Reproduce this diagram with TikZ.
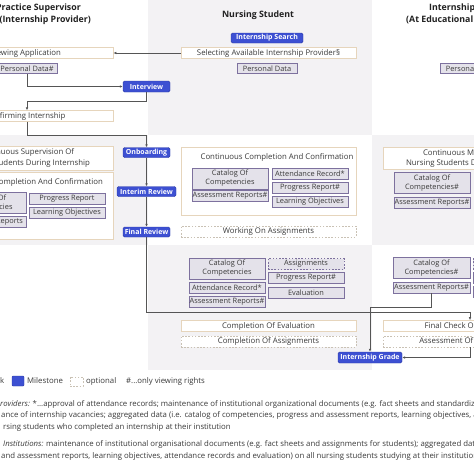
\documentclass[tikz,border=0pt]{standalone}
\usepackage{fontspec}
\setmainfont{Open Sans}
\usetikzlibrary{arrows.meta}
\definecolor{txt}{HTML}{3A3A3A}
\definecolor{hdrc}{HTML}{222222}
\definecolor{taskc}{HTML}{E6D5BC}
\definecolor{optc}{HTML}{C9C1B4}
\definecolor{datab}{HTML}{7D719E}
\definecolor{dataf}{HTML}{E4E2EA}
\definecolor{msf}{HTML}{3D50D2}
\definecolor{msb}{HTML}{2C3AA6}
\definecolor{linec}{HTML}{555555}
\definecolor{bgc}{HTML}{F3F2F4}
\tikzset{
  base/.style={inner sep=0pt, align=center, font=\fontsize{7.8}{9}\selectfont, text=txt},
  task/.style={base, draw=taskc, fill=white, line width=0.7pt},
  opt/.style={base, draw=optc, fill=white, dash pattern=on 1.6pt off 1.6pt, line width=0.7pt},
  data/.style={base, draw=datab, fill=dataf, line width=0.7pt, font=\fontsize{7.4}{9}\selectfont},
  optdata/.style={data, dash pattern=on 1.6pt off 1.6pt},
  ms/.style={base, draw=msb, fill=msf, text=white, rounded corners=1.5pt, font=\bfseries\fontsize{7}{8}\selectfont},
  conn/.style={draw=linec, line width=0.8pt, -{Latex[length=3pt,width=2.6pt]}},
  hdr/.style={font=\bfseries\fontsize{8.8}{10}\selectfont, text=hdrc, inner sep=0pt},
  lbl/.style={inner sep=0pt, font=\fontsize{7.8}{9}\selectfont, text=txt},
}
\begin{document}
\begin{tikzpicture}[x=1pt,y=-1pt]
\useasboundingbox (0,0) rectangle (474,474);
\begin{scope}
\clip (0,0) rectangle (474,474);
% background lanes
\fill[white] (0,0) rectangle (474,474);
\fill[bgc] (148,0) rectangle (372,135);
\fill[bgc] (0,135) rectangle (148,245);
\fill[bgc] (372,135) rectangle (474,245);
\fill[bgc] (148,245) rectangle (372,370);

% headers
\node[hdr, anchor=east] (hps1) at (81,8) {Practice Supervisor};
\node[hdr, anchor=east] (hps2) at (91,20) {(Internship Provider)};
\node[hdr] (hns) at (258,15) {Nursing Student};
\node[hdr, anchor=west] (hic1) at (429,8) {Internship};
\node[hdr, anchor=west] (hic2) at (406,20) {(At Educational};

% row 1
\node[ms, minimum width=72, minimum height=10] (mssearch) at (267,38) {Internship Search};
\node[task, minimum width=175, minimum height=10.5] (sel) at (268.5,53) {Selecting Available Internship Provider§};
\node[task, minimum width=175, minimum height=10.5] (view) at (25.5,53) {Viewing Application};
\node[data, minimum width=60, minimum height=10.5] (pdps) at (27,68.5) {Personal Data\#};
\node[data, minimum width=60, minimum height=10.5] (pdns) at (267,68.5) {Personal Data};
\node[data, minimum width=60, minimum height=10.5] (pdic) at (470,68.5) {Personal Data};
\node[ms, minimum width=47, minimum height=11] (msint) at (146.5,86.5) {Interview};
\node[task, minimum width=175, minimum height=10.5] (conf) at (25.5,116) {Confirming Internship};

% row 2 left
\node[ms, minimum width=47, minimum height=10] (msonb) at (146.5,152.5) {Onboarding};
\node[task, minimum width=175, minimum height=24, font=\fontsize{7.8}{10.5}\selectfont] (sup) at (25.5,158) {Continuous Supervision Of\\Nursing Students During Internship};
\node[task, minimum width=175, minimum height=67] (cccl) at (25.5,205.5) {};
\node[lbl, anchor=east] (cccltitle) at (103,182) {Continuous Completion And Confirmation};
\node[data, minimum width=76, minimum height=21] (catl) at (-12,203) {Catalog Of\\Competencies};
\node[data, minimum width=76, minimum height=11] (arl) at (-12,221.5) {Assessment Reports};
\node[data, minimum width=76, minimum height=11] (prl) at (67,198.5) {Progress Report};
\node[data, minimum width=76, minimum height=11] (lol) at (67,212.5) {Learning Objectives};
\node[ms, minimum width=59, minimum height=10] (msir) at (146.5,191.5) {Interim Review};
\node[ms, minimum width=47, minimum height=10] (msfr) at (146.5,232) {Final Review};

% row 2 middle
\node[task, minimum width=175, minimum height=68] (cccm) at (268.5,181) {};
\node[lbl] (cccmtitle) at (277,157) {Continuous Completion And Confirmation};
\node[data, minimum width=76, minimum height=21] (catm) at (230,178.5) {Catalog Of\\Competencies};
\node[data, minimum width=76, minimum height=11] (arm) at (230,196) {Assessment Reports\#};
\node[data, minimum width=76, minimum height=11] (attm) at (310,173.5) {Attendance Record*};
\node[data, minimum width=76, minimum height=11] (prgm) at (310,187.5) {Progress Report\#};
\node[data, minimum width=76, minimum height=11] (lom) at (310,202) {Learning Objectives};
\node[opt, minimum width=175, minimum height=11] (work) at (268.5,231.5) {Working On Assignments};

% row 2 right
\node[task, minimum width=175, minimum height=22, font=\fontsize{7.8}{10}\selectfont] (mon) at (470.5,158.5) {Continuous Monitoring Of\\Nursing Students During Internship};
\node[data, minimum width=76, minimum height=21] (catr2) at (432,183) {Catalog Of\\Competencies\#};
\node[data, minimum width=76, minimum height=11] (arr2) at (432,202.5) {Assessment Reports\#};
\node[data, minimum width=76, minimum height=21] (xr2) at (512,183) {};

% row 3 middle
\node[data, minimum width=76, minimum height=21] (catm3) at (227,268.5) {Catalog Of\\Competencies};
\node[data, minimum width=76, minimum height=11] (attm3) at (227,287.5) {Attendance Record*};
\node[data, minimum width=76, minimum height=11] (arm3) at (227,302) {Assessment Reports\#};
\node[optdata, minimum width=76, minimum height=11] (asgm3) at (306,264) {Assignments};
\node[data, minimum width=76, minimum height=11] (prgm3) at (306,278) {Progress Report\#};
\node[data, minimum width=76, minimum height=11] (evam3) at (306,292.5) {Evaluation};
\node[task, minimum width=175, minimum height=11] (ce) at (268.5,326) {Completion Of Evaluation};
\node[opt, minimum width=175, minimum height=11] (ca) at (268.5,341.5) {Completion Of Assignments};

% row 3 right
\node[data, minimum width=77, minimum height=21] (catr3) at (431.5,268) {Catalog Of\\Competencies\#};
\node[data, minimum width=77, minimum height=11] (arr3) at (431.5,287.5) {Assessment Reports\#};
\node[optdata, minimum width=76, minimum height=11] (xr3a) at (511,263.5) {};
\node[data, minimum width=76, minimum height=11] (xr3b) at (511,277.5) {};
\node[data, minimum width=76, minimum height=11] (xr3c) at (511,291.5) {};
\node[task, minimum width=175, minimum height=11] (fc) at (470.5,326) {Final Check Of Evaluation};
\node[opt, minimum width=175, minimum height=11] (ao) at (470.5,341.5) {Assessment Of Assignments};
\node[ms, minimum width=64, minimum height=11] (msig) at (370,357.5) {Internship Grade};

% connectors
\draw[conn] (sel.west) -- (view.east);
\draw[conn] (pdps.south) |- (msint.west);
\coordinate (j1) at (27,101);
\draw[conn] (msint.south) |- (j1) -- (j1 |- conf.north);
\coordinate (j2) at (27,135);
\draw[conn] (j1 |- conf.south) -- (j2) -| (msonb.north);
\draw[conn] (msonb.south) -- (msir.north);
\draw[conn] (msir.south) -- (msfr.north);
\coordinate (j3) at (146.5,312);
\coordinate (j4) at (470,312);
\draw[conn] (msfr.south) -- (j3) -- (j4) -- (j4 |- fc.north);
\coordinate (j5) at (431.5,307);
\draw[conn] (arr3.south) -- (j5) -| (msig.north);
\coordinate (j6) at (470,357.5);
\draw[conn] (j6 |- ao.south) -- (j6) -- (msig.east);

% legend
\node[lbl, anchor=west] (lgk) at (0,381) {k};
\node[ms, minimum width=12, minimum height=10, rounded corners=1pt] (lgms) at (18,381) {};
\node[lbl, anchor=west] (lgmst) at (27,381) {Milestone};
\node[draw=optc, dash pattern=on 1.6pt off 1.6pt, line width=0.7pt, minimum width=13, minimum height=9, inner sep=0pt] (lgopt) at (76.5,381.5) {};
\node[lbl, anchor=west] (lgoptt) at (86,381) {optional};
\node[lbl, anchor=west] (lgview) at (126,381) {\#...only viewing rights};

% footnotes
\node[lbl, anchor=base west] (f1) at (0,406) {\textit{roviders:} *...approval of attendance records; maintenance of institutional organizational documents (e.g. fact sheets and standardiz};
\node[lbl, anchor=base west] (f2) at (1,417) {ance of internship vacancies; aggregated data (i.e. catalog of competencies, progress and assessment reports, learning objectives, a};
\node[lbl, anchor=base west] (f3) at (3,429.5) {rsing students who completed an internship at their institution};
\node[lbl, anchor=base west] (f4) at (3,446) {\textit{Institutions:} maintenance of institutional organisational documents (e.g. fact sheets and assignments for students); aggregated data};
\node[lbl, anchor=base west] (f5) at (1,458) {and assessment reports, learning objectives, attendance records and evaluation) on all nursing students studying at their institution};
\end{scope}
\end{tikzpicture}
\end{document}
